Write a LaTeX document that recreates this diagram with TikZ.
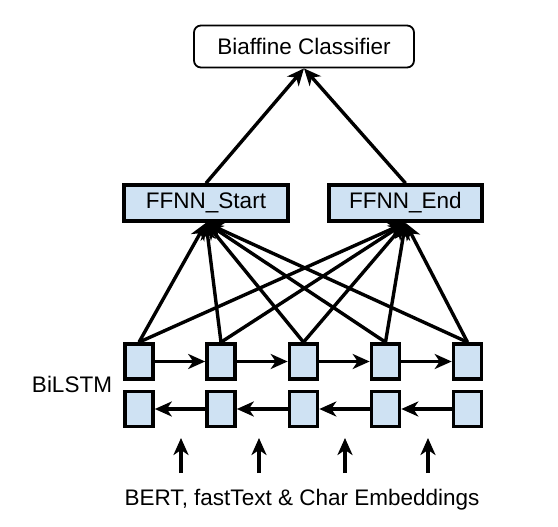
\documentclass[tikz,border=0pt]{standalone}
\usepackage{fontspec}
\setmainfont{Liberation Sans}
\usetikzlibrary{arrows.meta}
\definecolor{cellblue}{HTML}{CFE2F3}
\tikzset{
  cell/.style={draw=black, line width=3.6pt, fill=cellblue, minimum width=28pt, minimum height=35pt, inner sep=0pt},
  ffnn/.style={draw=black, line width=3.6pt, fill=cellblue, minimum height=36pt, inner sep=0pt, font=\fontsize{22.5}{26}\selectfont},
  clf/.style={draw=black, line width=1.8pt, fill=white, rounded corners=7pt, minimum width=220pt, minimum height=42pt, inner sep=0pt, font=\fontsize{22.5}{26}\selectfont},
  lbl/.style={font=\fontsize{22.5}{26}\selectfont, inner sep=0pt},
  conn/.style={line width=3.4pt, -{Stealth[length=17pt, width=15pt, inset=5pt]}},
}
\begin{document}
\begin{tikzpicture}[x=1pt, y=-1pt]
\useasboundingbox[fill=white] (0,0) rectangle (558,527);
\node[clf] (clf) at (304,46.5) {Biaffine Classifier};
\node[ffnn, minimum width=164pt] (fs) at (206,203) {FFNN\_Start};
\node[ffnn, minimum width=153pt] (fe) at (405.5,203) {FFNN\_End};
\foreach \i/\x in {1/139,2/221,3/303.5,4/385.5,5/467.5} {
  \node[cell] (t\i) at (\x,361.5) {};
  \node[cell] (b\i) at (\x,409) {};
}
\node[lbl] (bil) at (72,384) {BiLSTM};
\node[lbl] (emb) at (302,500) {BERT, fastText \& Char Embeddings};
\draw[conn] (fs.north) -- (clf.south);
\draw[conn] (fe.north) -- (clf.south);
\foreach \i in {1,...,5} {
  \draw[conn] (t\i.north) -- (fs.south);
  \draw[conn] (t\i.north) -- (fe.south);
}
\foreach \a/\b in {1/2,2/3,3/4,4/5} {
  \draw[conn] (t\a.east) -- (t\b.west);
  \draw[conn] (b\b.west) -- (b\a.east);
}
\foreach \i/\x in {1/181,2/259,3/345,4/428} {
  \coordinate (s\i) at (\x,473);
  \coordinate (e\i) at (\x,438);
  \draw[conn] (s\i) -- (e\i);
}
\end{tikzpicture}
\end{document}
